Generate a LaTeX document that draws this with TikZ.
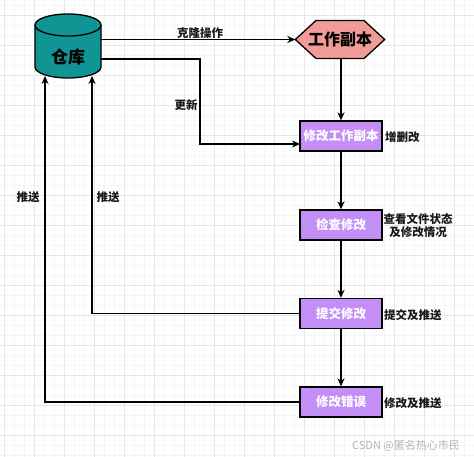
\documentclass[tikz,border=0pt]{standalone}
\usepackage{fontspec}
\setmainfont{Noto Sans CJK SC}
\usetikzlibrary{arrows.meta}
\definecolor{teal1}{HTML}{109494}
\definecolor{hexfill}{HTML}{F19C99}
\definecolor{boxfill}{HTML}{C38FF6}
\definecolor{gridminor}{HTML}{F5F5F5}
\definecolor{gridmajor}{HTML}{E6E6E6}
\definecolor{wm}{HTML}{B4B4B4}
\tikzset{
  arr/.style={line width=1.3pt,-{Stealth[length=8pt,width=7pt]}},
  ln/.style={line width=1.3pt},
  stepbox/.style={draw=black,line width=1.3pt,fill=boxfill,minimum width=82pt,minimum height=30pt,inner sep=0pt,text=white,font=\bfseries\fontsize{12.5}{14}\selectfont},
  lbl/.style={font=\bfseries\fontsize{11.5}{14}\selectfont,inner sep=0pt,text=black!90},
}
\begin{document}
\begin{tikzpicture}[x=1pt,y=-1pt]
\useasboundingbox (0,0) rectangle (474,457);
\fill[white] (0,0) rectangle (474,457);
% grid
\foreach \x in {4,14,...,474} \draw[gridminor,line width=0.5pt] (\x,0) -- (\x,457);
\foreach \y in {5,15,...,455} \draw[gridminor,line width=0.5pt] (0,\y) -- (474,\y);
\foreach \x in {4,34,...,474} \draw[gridmajor,line width=0.6pt] (\x,0) -- (\x,457);
\foreach \y in {15,45,...,455} \draw[gridmajor,line width=0.6pt] (0,\y) -- (474,\y);

% cylinder
\fill[teal1] (35,25) -- (35,67) arc[start angle=180,end angle=0,x radius=33,y radius=11] -- (101,25) arc[start angle=0,end angle=-180,x radius=33,y radius=11] -- cycle;
\draw[line width=1.3pt] (35,25) -- (35,67) arc[start angle=180,end angle=0,x radius=33,y radius=11] -- (101,25);
\draw[line width=1.3pt] (68,25) ellipse[x radius=33,y radius=11];
\node[minimum width=66pt,minimum height=64pt,inner sep=0pt] (repo) at (68,46) {};
\node[font=\bfseries\fontsize{17}{20}\selectfont,inner sep=0pt] (repotext) at (68,57) {仓库};

% hexagon
\node[minimum width=89pt,minimum height=38pt,inner sep=0pt] (hex) at (340,39.5) {};
\draw[line width=1.3pt,fill=hexfill] (hex.west) -- (316,20.5) -- (364,20.5) -- (hex.east) -- (364,58.5) -- (316,58.5) -- cycle;
\node[font=\bfseries\fontsize{16}{19}\selectfont,inner sep=0pt] (hextext) at (hex.center) {工作副本};

% boxes
\node[stepbox] (b1) at (341,136) {修改工作副本};
\node[stepbox] (b2) at (341,225) {检查修改};
\node[stepbox] (b3) at (341,313.5) {提交修改};
\node[stepbox] (b4) at (341,402) {修改错误};

% coordinates
\coordinate (c1) at (101,59);
\coordinate (c2) at (200,59);
\coordinate (c3) at (200,144);
\coordinate (b1in) at (300,144);
\coordinate (p1) at (92,313.5);
\coordinate (p1e) at (92,76);
\coordinate (p2) at (45,402);
\coordinate (p2e) at (45,76);

% connectors
\draw[arr] (repo.east |- hex.west) -- (hex.west);
\draw[arr] (c1) -- (c2) -- (c3) -- (b1in);
\draw[arr] (hex.south -| b1.north) -- (b1.north);
\draw[arr] (b1) -- (b2);
\draw[arr] (b2) -- (b3);
\draw[arr] (b3) -- (b4);
\draw[arr] (b3.west) -- (p1) -- (p1e);
\draw[arr] (b4.west) -- (p2) -- (p2e);

% labels
\node[lbl] (l1) at (200,33) {克隆操作};
\node[lbl] (l2) at (186,105) {更新};
\node[lbl,anchor=west] (l3) at (385,137) {增删改};
\node[lbl,align=center] (l4) at (418,226) {查看文件状态\\[-1pt]及修改情况};
\node[lbl,anchor=west] (l5) at (384,315) {提交及推送};
\node[lbl,anchor=west] (l6) at (384,403) {修改及推送};
\node[lbl] (l7) at (28,197) {推送};
\node[lbl] (l8) at (108,197) {推送};
\node[font=\fontsize{11}{13}\selectfont,text=wm,anchor=west,inner sep=0pt] (wmk) at (352,446) {CSDN @匿名热心市民};
\end{tikzpicture}
\end{document}
